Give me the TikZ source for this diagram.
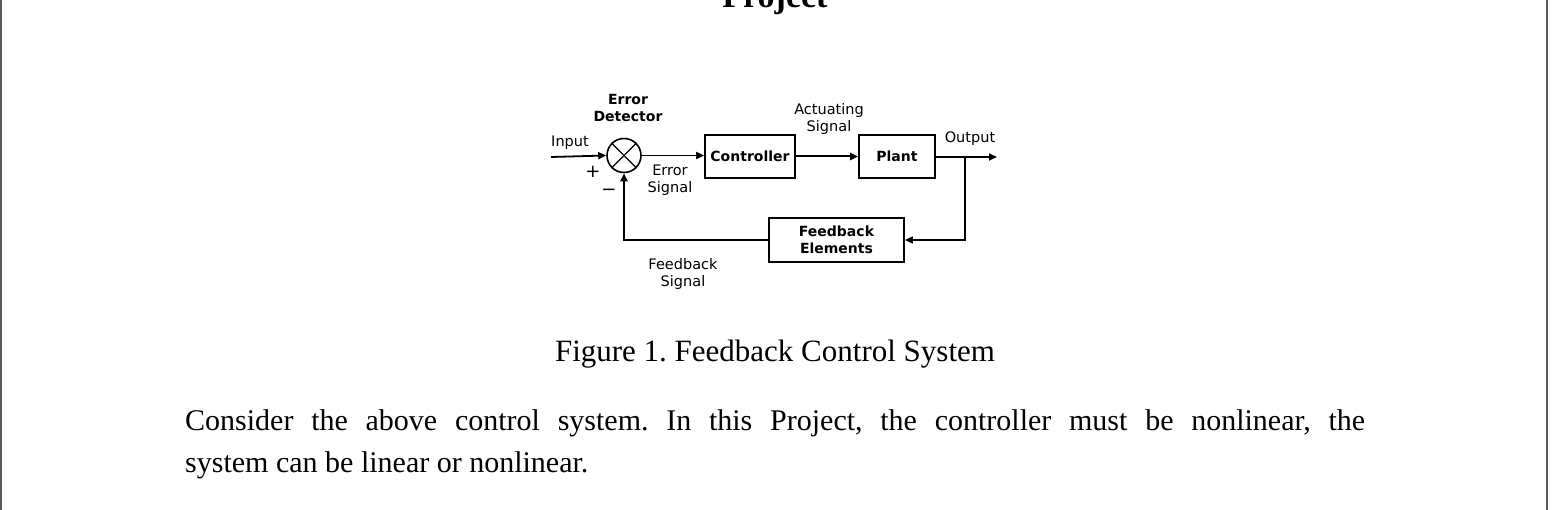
\documentclass[tikz,border=0pt]{standalone}
\usepackage{fontspec}
\setmainfont{Liberation Serif}
\newfontfamily\dv{DejaVu Sans}
\usetikzlibrary{arrows.meta}
\begin{document}
\frenchspacing
\begin{tikzpicture}[x=1pt,y=-1pt,
  lbl/.style={font=\dv\fontsize{14.5}{17.5}\selectfont,align=center,inner sep=0pt},
  blbl/.style={font=\dv\bfseries\fontsize{14}{17}\selectfont,align=center,inner sep=0pt},
  blk/.style={draw,line width=1.8pt,inner sep=0pt,font=\dv\bfseries\fontsize{14}{17.5}\selectfont,align=center},
  con/.style={line width=1.8pt,-{Triangle[length=8pt,width=7pt]}}]
\useasboundingbox (0,0) rectangle (1553,510);
\fill[white] (0,0) rectangle (1553,510);
\draw[gray!70!black,line width=2pt] (1,0) -- (1,510);
\draw[gray!70!black,line width=2pt] (1547,0) -- (1547,510);
\node[font=\bfseries\fontsize{34}{40}\selectfont,anchor=base] (title) at (775,8) {Project};
% diagram
\node[draw,circle,line width=1.6pt,minimum size=34pt,inner sep=0pt] (sum) at (624,155.5) {};
\draw[line width=1.3pt] (sum.north west) -- (sum.south east) (sum.north east) -- (sum.south west);
\node[blk,minimum width=90pt,minimum height=43pt] (ctrl) at (750,156.5) {Controller};
\node[blk,minimum width=76pt,minimum height=43pt] (plant) at (897,156.5) {Plant};
\node[blk,minimum width=135pt,minimum height=44pt] (fb) at (836.5,240) {Feedback\\Elements};
\coordinate (in) at (551,157);
\coordinate (out) at (997,157);
\coordinate (br) at (965,157);
\coordinate (fbl) at (624,240);
\draw[con] (in) -- (sum.west);
\draw[con] (sum.east) -- (sum.east -| ctrl.west);
\draw[con,line width=2pt] (ctrl.east) -- (plant.west);
\draw[con] (plant.east |- out) -- (out);
\draw[con] (br) |- (fb.east);
\draw[con] (fb.west) -- (fbl) -- (sum.south);
\node[lbl] at (570,143) {Input};
\node[font=\dv\fontsize{18}{18}\selectfont,inner sep=0pt] at (593,172) {+};
\node[font=\dv\fontsize{18}{18}\selectfont,inner sep=0pt] at (609,192) {−};
\node[blbl] at (628,108) {Error\\Detector};
\node[lbl] at (670,180) {Error\\Signal};
\node[lbl] at (829,119) {Actuating\\Signal};
\node[lbl] at (970,139) {Output};
\node[lbl] at (683,274) {Feedback\\Signal};
\node[font=\fontsize{31}{36}\selectfont,anchor=base] (cap) at (775,362) {Figure 1. Feedback Control System};
\node[font=\fontsize{30}{42}\selectfont,text width=1180pt,align=justify,anchor=north west,inner sep=0pt] (para) at (185,409)
 {Consider the above control system. In this Project, the controller must be nonlinear, the\linebreak system can be linear or nonlinear.};
\end{tikzpicture}
\end{document}
